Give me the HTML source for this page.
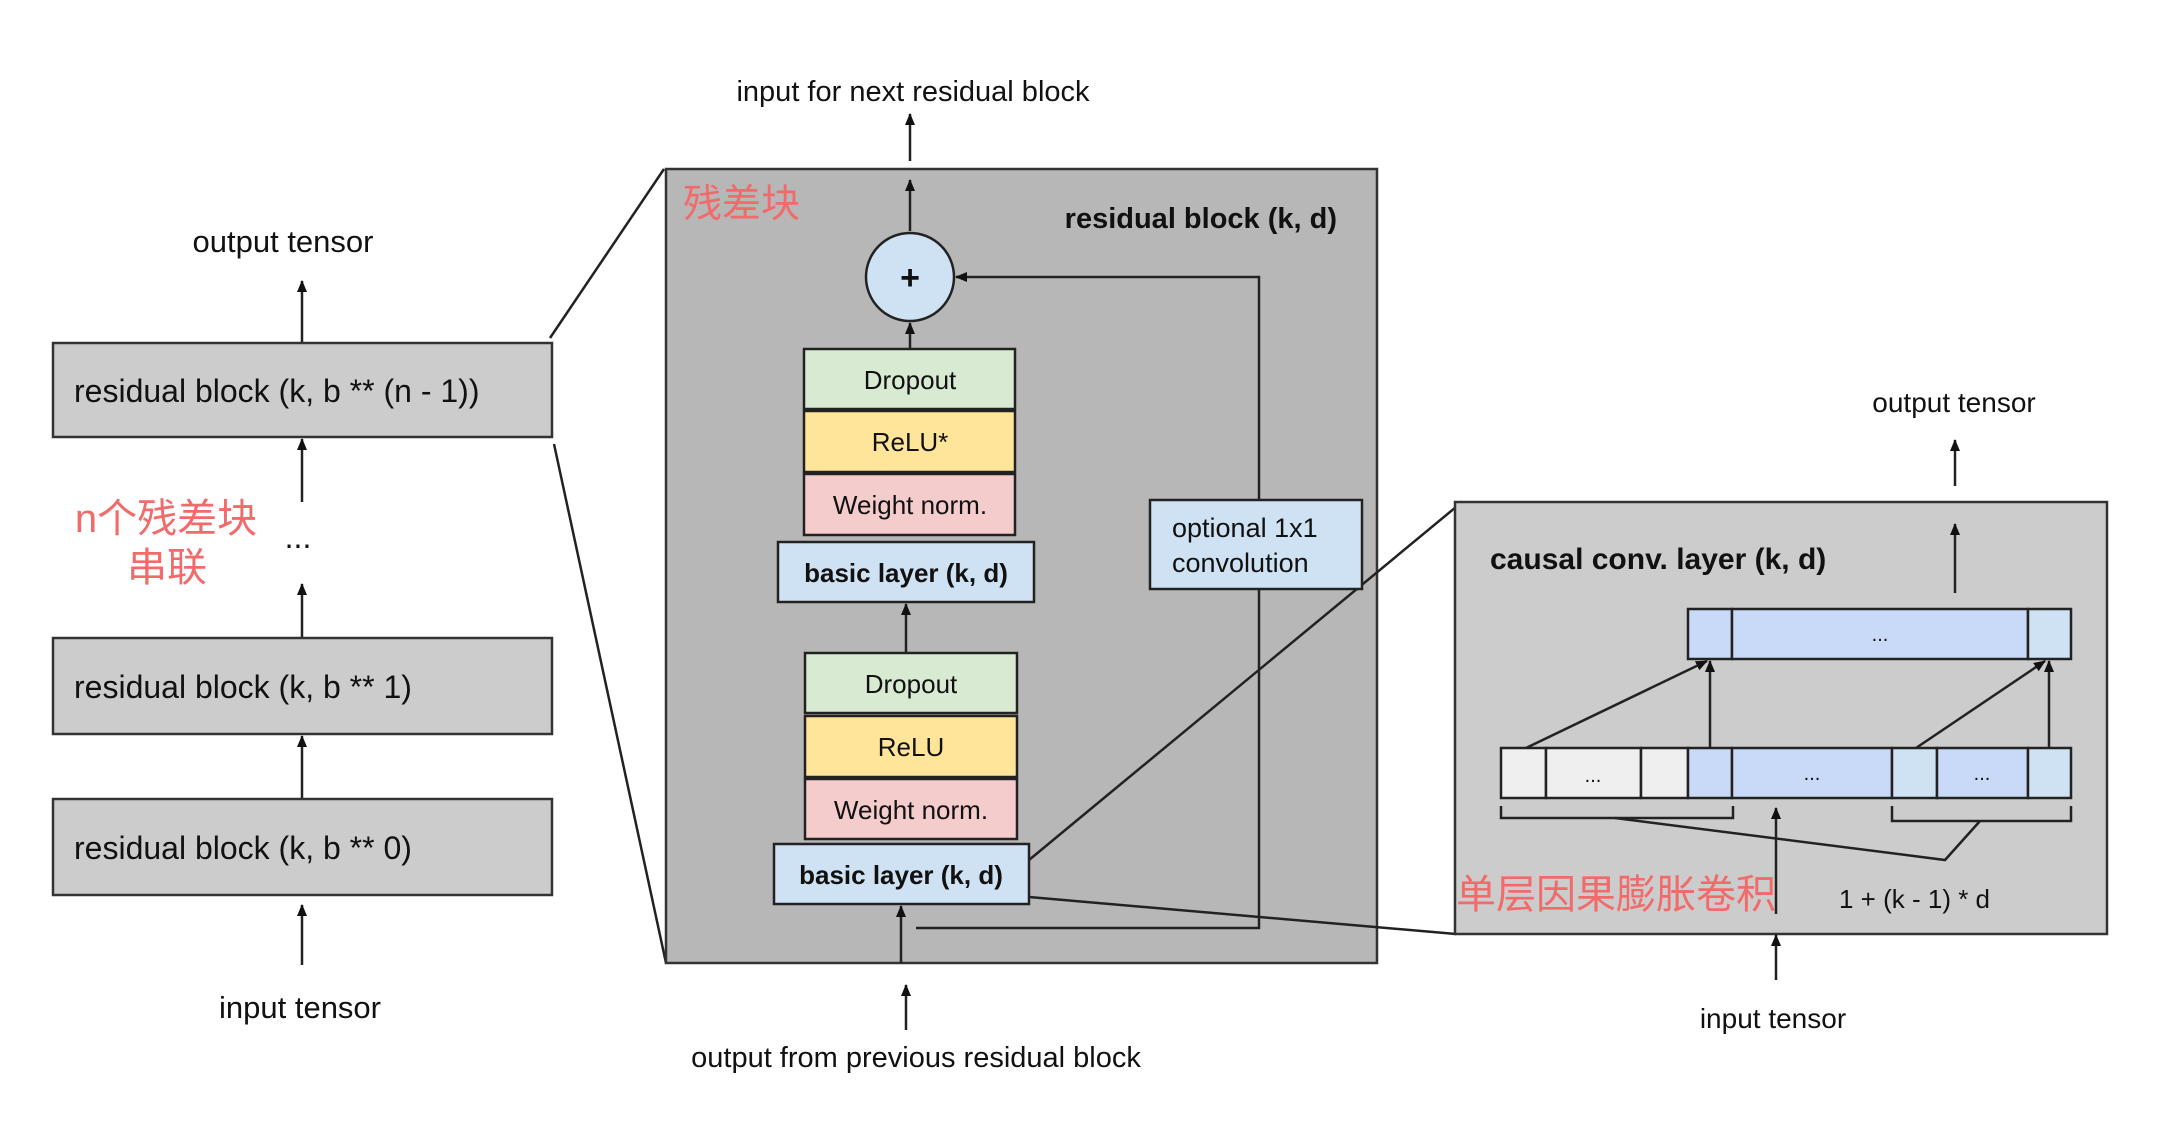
<!DOCTYPE html>
<html><head><meta charset="utf-8"><style>
html,body{margin:0;padding:0;background:#fff}
svg{display:block}
text{font-family:"Liberation Sans","Noto Sans CJK SC",sans-serif;fill:#111}
.cn{font-family:"Liberation Sans","Noto Sans CJK SC",sans-serif;fill:#f26a6a}
</style></head><body>
<svg width="2164" height="1140" viewBox="0 0 2164 1140" xmlns="http://www.w3.org/2000/svg">
<defs>
<marker id="a" markerWidth="12" markerHeight="12" refX="11" refY="6" orient="auto" markerUnits="userSpaceOnUse">
<path d="M0,1 L12,6 L0,11 z" fill="#111"/></marker>
</defs>
<g stroke="#222" stroke-width="2.5" fill="none">
<line x1="302" y1="343" x2="302" y2="281" marker-end="url(#a)"/>
<line x1="302" y1="502" x2="302" y2="439" marker-end="url(#a)"/>
<line x1="302" y1="638" x2="302" y2="584" marker-end="url(#a)"/>
<line x1="302" y1="799" x2="302" y2="736" marker-end="url(#a)"/>
<line x1="302" y1="965" x2="302" y2="905" marker-end="url(#a)"/>
<line x1="550" y1="338" x2="664" y2="169"/>
<line x1="554" y1="444" x2="666" y2="963"/>
</g>
<g stroke="#333" stroke-width="2.5">
<rect x="53" y="343" width="499" height="94" fill="#cccccc"/>
<rect x="53" y="638" width="499" height="96" fill="#cccccc"/>
<rect x="53" y="799" width="499" height="96" fill="#cccccc"/>
</g>
<text x="283" y="252" font-size="31" text-anchor="middle">output tensor</text>
<text x="74" y="402" font-size="32">residual block (k, b ** (n - 1))</text>
<text x="74" y="698" font-size="32">residual block (k, b ** 1)</text>
<text x="74" y="859" font-size="32">residual block (k, b ** 0)</text>
<text x="298" y="548" font-size="32" text-anchor="middle">...</text>
<text x="300" y="1018" font-size="31" text-anchor="middle">input tensor</text>
<text class="cn" x="166" y="532" font-size="40" text-anchor="middle">n个残差块</text>
<text class="cn" x="167" y="581" font-size="40" text-anchor="middle">串联</text>

<rect x="666" y="169" width="711" height="794" fill="#b7b7b7" stroke="#333" stroke-width="2.5"/>
<text x="913" y="101" font-size="29" text-anchor="middle">input for next residual block</text>
<text class="cn" x="683" y="217" font-size="39">残差块</text>
<text x="1337" y="228" font-size="29" font-weight="bold" text-anchor="end">residual block (k, d)</text>
<g stroke="#222" stroke-width="2.5" fill="none">
<line x1="910" y1="161" x2="910" y2="114" marker-end="url(#a)"/>
<line x1="910" y1="231" x2="910" y2="180" marker-end="url(#a)"/>
<line x1="910" y1="350" x2="910" y2="323" marker-end="url(#a)"/>
<line x1="906" y1="653" x2="906" y2="604" marker-end="url(#a)"/>
<line x1="901" y1="963" x2="901" y2="906" marker-end="url(#a)"/>
<line x1="906" y1="1030" x2="906" y2="985" marker-end="url(#a)"/>
<polyline points="916,928 1259,928 1259,277 956,277" marker-end="url(#a)"/>
<line x1="1029" y1="860" x2="1456" y2="507"/>
<line x1="1029" y1="897" x2="1456" y2="934"/>
</g>
<circle cx="910" cy="277" r="44" fill="#cfe2f3" stroke="#222" stroke-width="2.5"/>
<text x="910" y="289" font-size="34" font-weight="bold" text-anchor="middle">+</text>
<g stroke="#222" stroke-width="2.5">
<rect x="804" y="349" width="211" height="60" fill="#d9ead3"/>
<rect x="804" y="411" width="211" height="61" fill="#ffe599"/>
<rect x="804" y="474" width="211" height="61" fill="#f4cccc"/>
<rect x="778" y="542" width="256" height="60" fill="#cfe2f3"/>
<rect x="805" y="653" width="212" height="60" fill="#d9ead3"/>
<rect x="805" y="716" width="212" height="61" fill="#ffe599"/>
<rect x="805" y="779" width="212" height="60" fill="#f4cccc"/>
<rect x="774" y="844" width="255" height="60" fill="#cfe2f3"/>
<rect x="1150" y="500" width="212" height="89" fill="#cfe2f3"/>
</g>
<g font-size="26" text-anchor="middle">
<text x="910" y="389">Dropout</text>
<text x="910" y="451">ReLU*</text>
<text x="910" y="514">Weight norm.</text>
<text x="906" y="582" font-weight="bold">basic layer (k, d)</text>
<text x="911" y="693">Dropout</text>
<text x="911" y="756">ReLU</text>
<text x="911" y="819">Weight norm.</text>
<text x="901" y="884" font-weight="bold">basic layer (k, d)</text>
</g>
<text x="1172" y="537" font-size="27">optional 1x1</text>
<text x="1172" y="572" font-size="27">convolution</text>
<text x="916" y="1067" font-size="29" text-anchor="middle">output from previous residual block</text>

<rect x="1455" y="502" width="652" height="432" fill="#cccccc" stroke="#333" stroke-width="2.5"/>
<text x="1954" y="412" font-size="28" text-anchor="middle">output tensor</text>
<text x="1490" y="569" font-size="30" font-weight="bold">causal conv. layer  (k, d)</text>
<g stroke="#222" stroke-width="2.5" fill="none">
<line x1="1955" y1="486" x2="1955" y2="440" marker-end="url(#a)"/>
<line x1="1955" y1="593" x2="1955" y2="524" marker-end="url(#a)"/>
<line x1="1526" y1="748" x2="1707" y2="661" marker-end="url(#a)"/>
<line x1="1710" y1="748" x2="1710" y2="661" marker-end="url(#a)"/>
<line x1="1916" y1="748" x2="2045" y2="661" marker-end="url(#a)"/>
<line x1="2049" y1="748" x2="2049" y2="661" marker-end="url(#a)"/>
<polyline points="1501,806 1501,818 1733,818 1733,806"/>
<polyline points="1892,806 1892,821 2071,821 2071,806"/>
<polyline points="1615,818 1945,860 1980,821"/>
<line x1="1776" y1="914" x2="1776" y2="808" marker-end="url(#a)"/>
<line x1="1776" y1="980" x2="1776" y2="935" marker-end="url(#a)"/>
</g>
<g stroke="#222" stroke-width="2.5">
<rect x="1688" y="609" width="44" height="50" fill="#c9daf8"/>
<rect x="1732" y="609" width="296" height="50" fill="#c9daf8"/>
<rect x="2028" y="609" width="43" height="50" fill="#cfe2f3"/>
<rect x="1501" y="748" width="45" height="50" fill="#efefef"/>
<rect x="1546" y="748" width="95" height="50" fill="#efefef"/>
<rect x="1641" y="748" width="47" height="50" fill="#efefef"/>
<rect x="1688" y="748" width="44" height="50" fill="#c9daf8"/>
<rect x="1732" y="748" width="160" height="50" fill="#c9daf8"/>
<rect x="1892" y="748" width="45" height="50" fill="#cfe2f3"/>
<rect x="1937" y="748" width="91" height="50" fill="#c9daf8"/>
<rect x="2028" y="748" width="43" height="50" fill="#cfe2f3"/>
</g>
<g font-size="20" text-anchor="middle">
<text x="1880" y="641">...</text>
<text x="1593" y="782">...</text>
<text x="1812" y="780">...</text>
<text x="1982" y="780">...</text>
</g>
<text x="1839" y="908" font-size="26">1 + (k - 1) * d</text>
<text class="cn" x="1456" y="908" font-size="40">单层因果膨胀卷积</text>
<text x="1773" y="1028" font-size="28" text-anchor="middle">input tensor</text>
</svg>
</body></html>
